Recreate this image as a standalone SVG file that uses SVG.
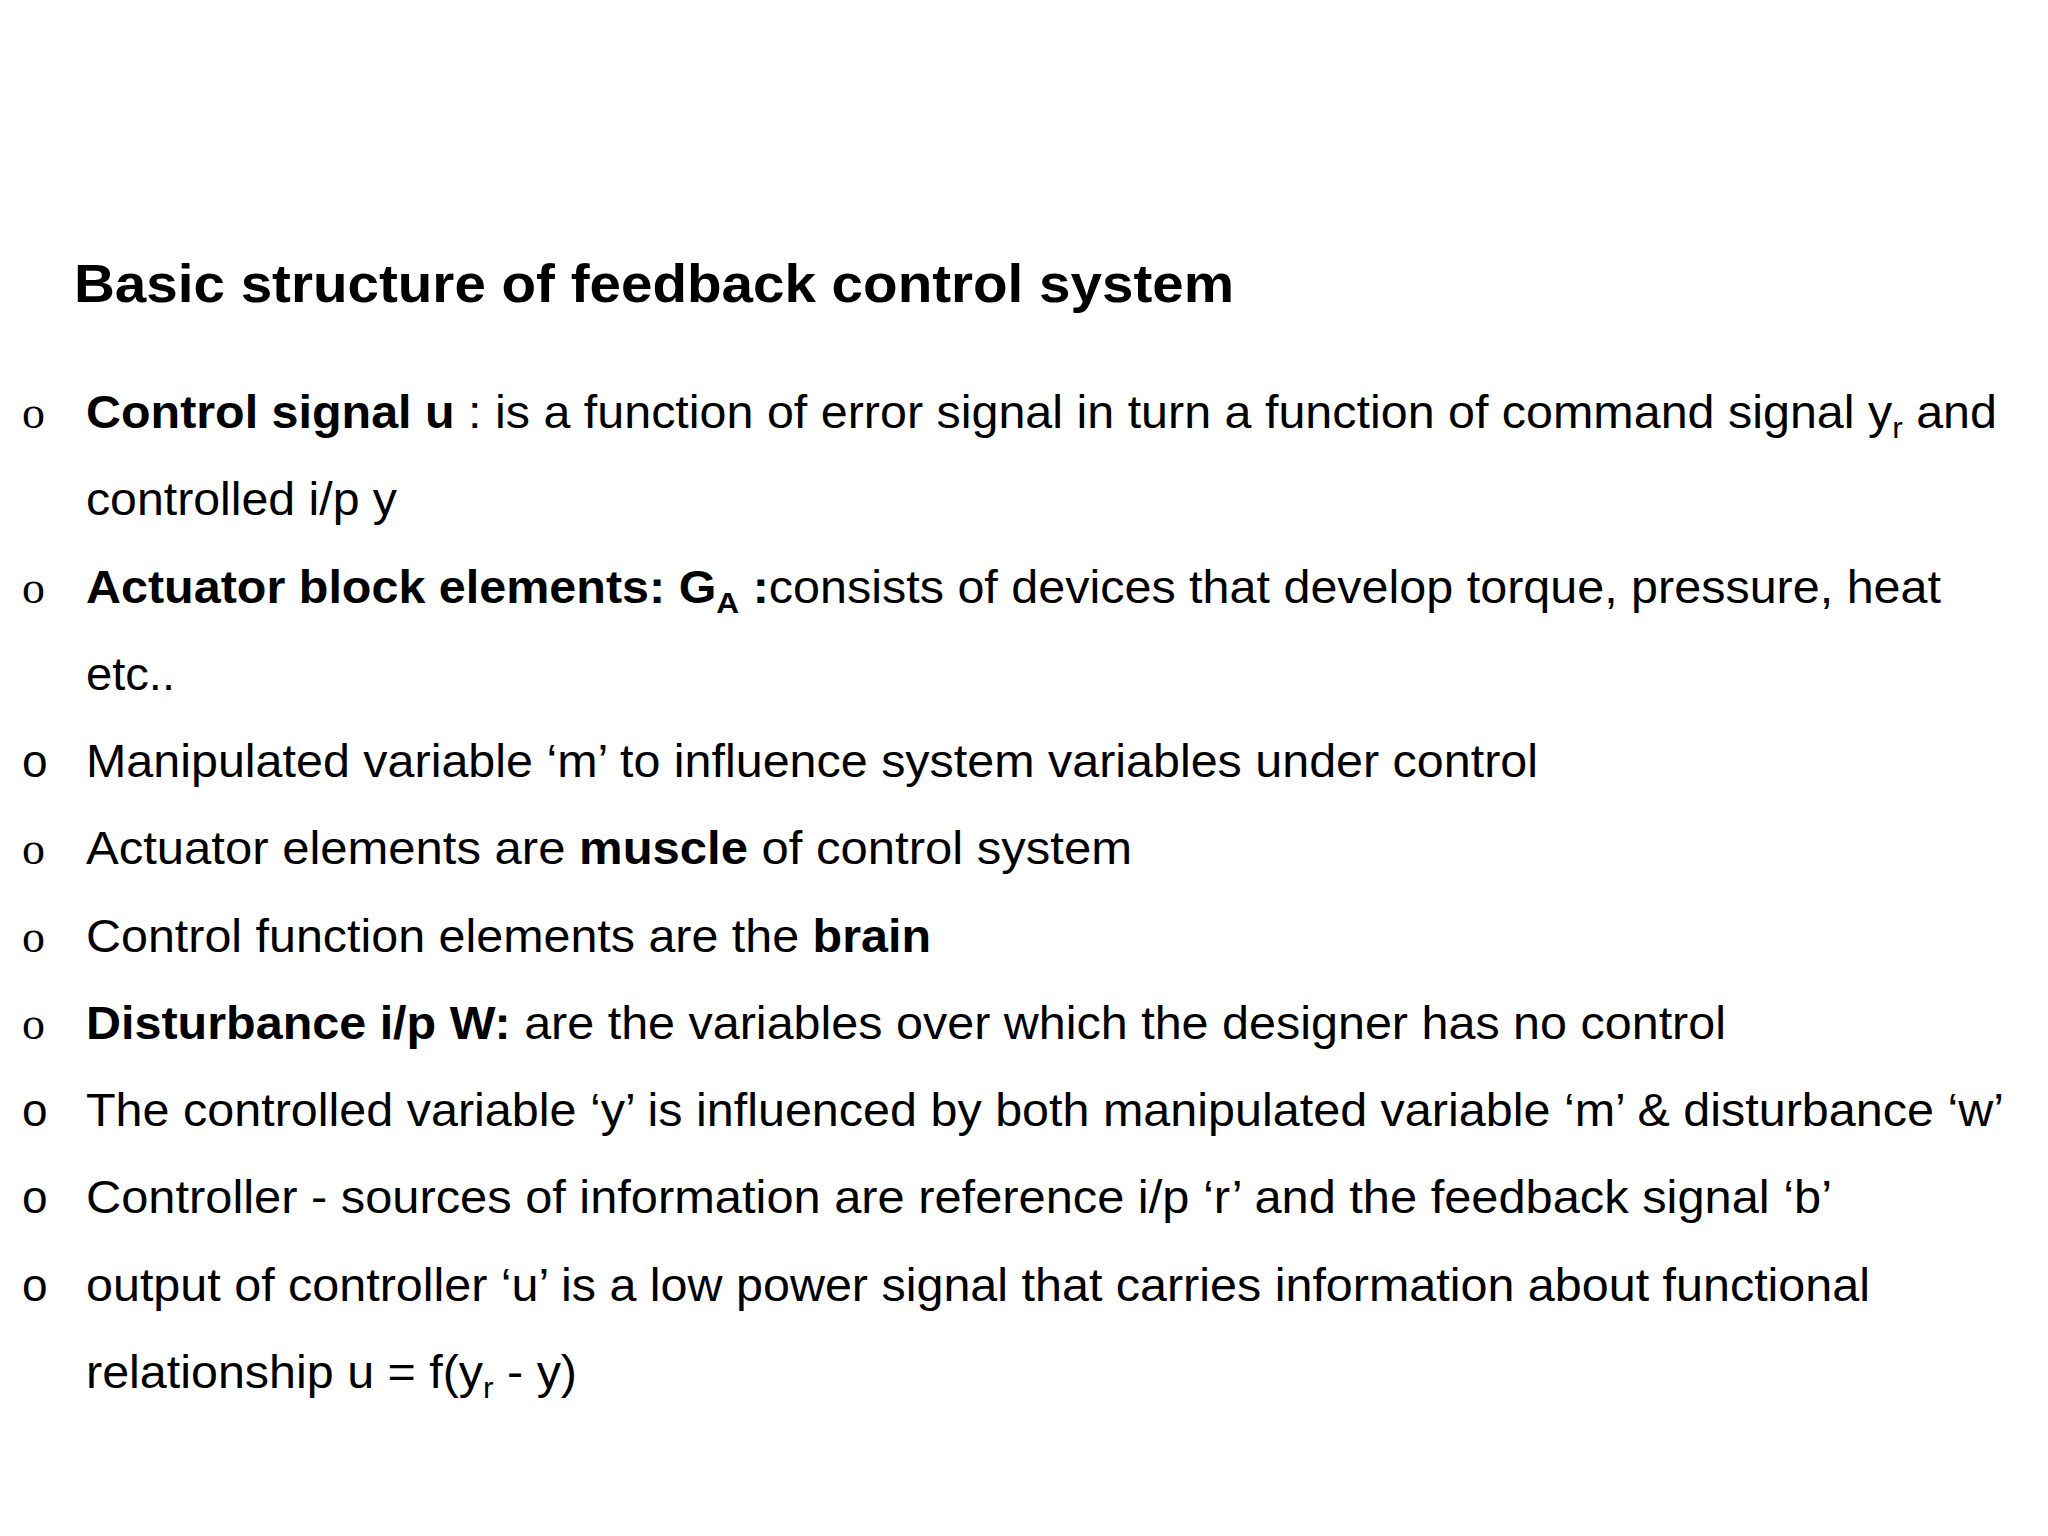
<svg xmlns="http://www.w3.org/2000/svg" width="2048" height="1536" viewBox="0 0 2048 1536">
<style>
text{font-family:"Liberation Sans",Arial,sans-serif;font-size:46px;fill:#000}
.b{font-weight:bold}
.t{font-weight:bold;font-size:54px}
.s{font-family:"Liberation Serif","Times New Roman",serif}
.sub{font-size:30px}
</style>
<rect width="2048" height="1536" fill="#fff"/>
<text class="t" x="74" y="302" textLength="1160" lengthAdjust="spacingAndGlyphs">Basic structure of feedback control system</text>
<g id="bullets">
<text class="s" x="22" y="428">o</text>
<text class="s" x="22" y="603">o</text>
<text x="22" y="777">o</text>
<text class="s" x="22" y="864">o</text>
<text class="s" x="22" y="952">o</text>
<text class="s" x="22" y="1039">o</text>
<text x="22" y="1126">o</text>
<text x="22" y="1213">o</text>
<text x="22" y="1301">o</text>
</g>
<text x="86" y="428" textLength="1911" lengthAdjust="spacingAndGlyphs"><tspan class="b">Control signal u</tspan> : is a function of error signal in turn a function of command signal y<tspan class="sub" dy="10">r</tspan><tspan dy="-10"> and</tspan></text>
<text x="86" y="515" textLength="311" lengthAdjust="spacingAndGlyphs">controlled i/p y</text>
<text x="86" y="603" textLength="1855" lengthAdjust="spacingAndGlyphs"><tspan class="b">Actuator block elements: G</tspan><tspan class="b sub" dy="10">A</tspan><tspan class="b" dy="-10"> :</tspan>consists of devices that develop torque, pressure, heat</text>
<text x="86" y="690" textLength="89" lengthAdjust="spacingAndGlyphs">etc..</text>
<text x="86" y="777" textLength="1452" lengthAdjust="spacingAndGlyphs">Manipulated variable ‘m’ to influence system variables under control</text>
<text x="86" y="864" textLength="1046" lengthAdjust="spacingAndGlyphs">Actuator elements are <tspan class="b">muscle</tspan>  of control system</text>
<text x="86" y="952" textLength="845" lengthAdjust="spacingAndGlyphs">Control function elements are the <tspan class="b">brain</tspan></text>
<text x="86" y="1039" textLength="1640" lengthAdjust="spacingAndGlyphs"><tspan class="b">Disturbance i/p W:</tspan> are the variables over which the designer has no control</text>
<text x="86" y="1126" textLength="1918" lengthAdjust="spacingAndGlyphs">The controlled variable ‘y’ is influenced by both manipulated variable ‘m’ &amp; disturbance ‘w’</text>
<text x="86" y="1213" textLength="1746" lengthAdjust="spacingAndGlyphs">Controller  - sources of information are reference i/p ‘r’ and the feedback signal ‘b’</text>
<text x="86" y="1301" textLength="1784" lengthAdjust="spacingAndGlyphs">output of controller ‘u’ is a low power signal that carries information about functional</text>
<text x="86" y="1388" textLength="491" lengthAdjust="spacingAndGlyphs">relationship u = f(y<tspan class="sub" dy="10">r</tspan><tspan dy="-10"> - y)</tspan></text>
</svg>
